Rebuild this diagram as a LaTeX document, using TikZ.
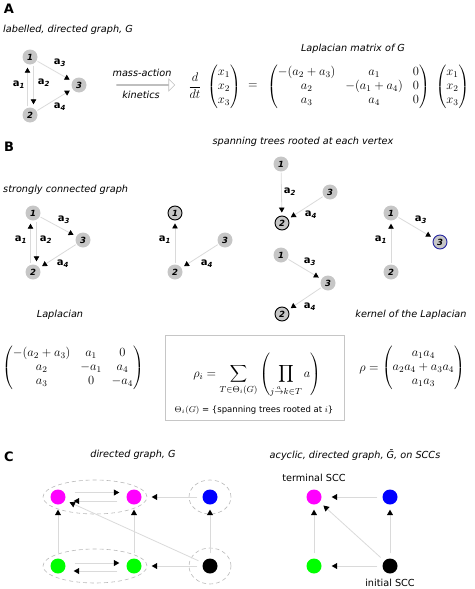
\RequirePackage{fix-cm}
\documentclass[tikz,border=0pt]{standalone}
\usepackage{amsmath}
\usepackage{fontspec}
\setmainfont{DejaVu Sans}
\usetikzlibrary{arrows.meta,shapes.geometric,shapes.arrows}
\definecolor{vgray}{HTML}{C6C6C6}
\definecolor{egray}{HTML}{DADADA}
\definecolor{navy}{HTML}{2424A0}
\definecolor{sccmag}{HTML}{FF00FF}
\definecolor{sccblue}{HTML}{0000FF}
\definecolor{sccgreen}{HTML}{00FF00}
\newcommand{\elab}[1]{\textbf{a}\textsubscript{\textbf{\textit{#1}}}}
\tikzset{
  vtx/.style={circle, fill=vgray, minimum size=15pt, inner sep=0pt, font=\fontsize{8.5}{9}\selectfont\bfseries\itshape},
  rootk/.style={vtx, draw=black, line width=0.9pt, minimum size=14pt},
  rootb/.style={vtx, draw=navy, line width=0.9pt, minimum size=14pt},
  edge/.style={draw=egray, line width=0.8pt, -{Triangle[length=5pt,width=5.5pt,color=black]}, shorten >=3pt, shorten <=1pt},
  captxt/.style={font=\fontsize{9.7}{11}\selectfont\itshape, inner sep=0pt},
  plaintxt/.style={font=\fontsize{9.7}{11}\selectfont, inner sep=0pt},
  elabel/.style={font=\fontsize{10}{11}\selectfont, inner sep=0pt},
  panel/.style={font=\fontsize{13}{14}\selectfont\bfseries, inner sep=0pt},
  mathtxt/.style={font=\fontsize{12.5}{14}\selectfont, inner sep=0pt},
  sccv/.style={circle, minimum size=15pt, inner sep=0pt},
  sccbox/.style={ellipse, draw=gray!55, dash pattern=on 4pt off 3pt, line width=0.6pt, inner sep=0pt, minimum height=34pt},
  cedge/.style={draw=egray, line width=0.8pt, -{Triangle[length=5.5pt,width=6pt,color=black]}, shorten >=5pt, shorten <=5pt},
}
\begin{document}
\begin{tikzpicture}[x=1pt,y=-1pt]
\useasboundingbox (0,0) rectangle (474,589);

% ---------------- Panel A ----------------
\node[panel] (pA) at (9,9) {A};
\node[captxt, anchor=west] (tA) at (3,30) {labelled, directed graph, G};
\node[vtx] (a1) at (30,57) {1};
\node[vtx] (a2) at (30,115) {2};
\node[vtx] (a3) at (79,85) {3};
\draw[edge] ([xshift=-2.5pt]a2.north) -- ([xshift=-2.5pt]a1.south);
\draw[edge] ([xshift=3.5pt]a1.south) -- ([xshift=3.5pt]a2.north);
\draw[edge] (a1) -- (a3);
\draw[edge] (a2) -- (a3);
\node[elabel] (la1) at (19,85) {\elab{1}};
\node[elabel] (la2) at (44,83) {\elab{2}};
\node[elabel] (la3) at (60,63) {\elab{3}};
\node[elabel] (la4) at (60,107) {\elab{4}};

\node[captxt] (tmass) at (142,73) {mass-action};
\node[captxt] (tkin) at (141,95) {kinetics};
\node[single arrow, draw=gray!50, fill=white, line width=0.6pt, minimum height=58pt, minimum width=12pt, single arrow head extend=3.5pt, inner sep=0pt] (marrow) at (145.5,85) {};

\node[captxt] (tLapA) at (353,49) {Laplacian matrix of G};
\node[mathtxt] (ddt) at (195,86) {$\displaystyle\frac{d}{dt}$};
\node[mathtxt] (xvecL) at (224,87) {$\begin{pmatrix} x_1\\ x_2\\ x_3\end{pmatrix}$};
\node[mathtxt] (eqA) at (253,86) {$=$};
\node[mathtxt] (LmatA) at (348.5,87) {$\begin{pmatrix} -(a_2+a_3) & a_1 & 0\\ a_2 & -(a_1+a_4) & 0\\ a_3 & a_4 & 0\end{pmatrix}$};
\node[mathtxt] (xvecR) at (452.5,87) {$\begin{pmatrix} x_1\\ x_2\\ x_3\end{pmatrix}$};

% ---------------- Panel B ----------------
\node[panel] (pB) at (9,147) {B};
\node[captxt] (tSpan) at (303,142) {spanning trees rooted at each vertex};
\node[captxt, anchor=west] (tStr) at (3,190) {strongly connected graph};

% strongly connected graph
\node[vtx] (b1) at (33,213) {1};
\node[vtx] (b2) at (33,272) {2};
\node[vtx] (b3) at (83,240) {3};
\draw[edge] ([xshift=-2.5pt]b2.north) -- ([xshift=-2.5pt]b1.south);
\draw[edge] ([xshift=3.5pt]b1.south) -- ([xshift=3.5pt]b2.north);
\draw[edge] (b1) -- (b3);
\draw[edge] (b3) -- (b2);
\node[elabel] (lb1) at (21,240) {\elab{1}};
\node[elabel] (lb2) at (46,240) {\elab{2}};
\node[elabel] (lb3) at (64,220) {\elab{3}};
\node[elabel] (lb4) at (63,264) {\elab{4}};

% tree rooted at 1
\node[rootk] (r1) at (175,213) {1};
\node[vtx] (r2) at (175,272) {2};
\node[vtx] (r3) at (225,240) {3};
\draw[edge] (r2) -- (r1);
\draw[edge] (r3) -- (r2);
\node[elabel] (lr1) at (165,240) {\elab{1}};
\node[elabel] (lr4) at (207,264) {\elab{4}};

% tree rooted at 2 (top)
\node[vtx] (t1) at (281,164) {1};
\node[vtx] (t3) at (330,192) {3};
\node[rootk] (t2) at (282,223) {2};
\draw[edge] (t1) -- (t2);
\draw[edge] (t3) -- (t2);
\node[elabel] (lt2) at (290,192) {\elab{2}};
\node[elabel] (lt4) at (311,215) {\elab{4}};

% tree rooted at 2 (bottom)
\node[vtx] (u1) at (281,255) {1};
\node[vtx] (u3) at (328,283) {3};
\node[rootk] (u2) at (282,314) {2};
\draw[edge] (u1) -- (u3);
\draw[edge] (u3) -- (u2);
\node[elabel] (lu3) at (310,262) {\elab{3}};
\node[elabel] (lu4) at (310,307) {\elab{4}};

% tree rooted at 3
\node[vtx] (v1) at (391,213) {1};
\node[vtx] (v2) at (391,272) {2};
\node[rootb] (v3) at (440,242) {3};
\draw[edge] (v2) -- (v1);
\draw[edge] (v1) -- (v3);
\node[elabel] (lv1) at (381,240) {\elab{1}};
\node[elabel] (lv3) at (421,220) {\elab{3}};

% Laplacian, formula, kernel
\node[captxt] (tLapB) at (60,315) {Laplacian};
\node[captxt] (tKer) at (411,315) {kernel of the Laplacian};
\node[mathtxt] (LmatB) at (73,368) {$\begin{pmatrix} -(a_2+a_3) & a_1 & 0\\ a_2 & -a_1 & a_4\\ a_3 & 0 & -a_4\end{pmatrix}$};
\node[draw=gray!45, line width=0.7pt, minimum width=179pt, minimum height=85pt, inner sep=0pt] (fbox) at (254.5,377.5) {};
\node[mathtxt] (rhoi) at (257,375) {$\displaystyle \rho_i = \sum_{T\in\Theta_i(G)} \left(\prod_{j\overset{a}{\to}k\in T} a\right)$};
\node[font=\fontsize{8.5}{10}\selectfont, inner sep=0pt] (thetadef) at (254,410) {$\Theta_i(G)$ = \{spanning trees rooted at $i$\}};
\node[mathtxt] (kern) at (412,368) {$\rho = \begin{pmatrix} a_1a_4\\ a_2a_4+a_3a_4\\ a_1a_3\end{pmatrix}$};

% ---------------- Panel C ----------------
\node[panel] (pC) at (9,457) {C};
\node[captxt] (tC1) at (133,455) {directed graph, G};
\node[captxt] (tC2) at (355,455) {acyclic, directed graph, \={G}, on SCCs};

\node[sccbox, minimum width=104pt] (em) at (95,497) {};
\node[sccbox, minimum width=42pt] (eb) at (210,497) {};
\node[sccbox, minimum width=104pt] (eg) at (95,566) {};
\node[sccbox, minimum width=42pt, minimum height=36pt] (ek) at (210,566) {};

\node[sccv, fill=sccmag] (cm1) at (58,497) {};
\node[sccv, fill=sccmag] (cm2) at (134,497) {};
\node[sccv, fill=sccblue] (cb) at (210,497) {};
\node[sccv, fill=sccgreen] (cg1) at (58,566) {};
\node[sccv, fill=sccgreen] (cg2) at (134,566) {};
\node[sccv, fill=black] (ck) at (210,566) {};

\draw[cedge, shorten <=9pt, shorten >=7pt] ([yshift=4.5pt]cm1.east) -- ([yshift=4.5pt]cm2.west);
\draw[cedge, shorten <=9pt, shorten >=8pt] ([yshift=-4pt]cm2.west) -- ([yshift=-4pt]cm1.east);
\draw[cedge, shorten <=9pt, shorten >=7pt] ([yshift=3pt]cg1.east) -- ([yshift=3pt]cg2.west);
\draw[cedge, shorten <=9pt, shorten >=8pt] ([yshift=-5pt]cg2.west) -- ([yshift=-5pt]cg1.east);
\draw[cedge, shorten >=10pt] (cb) -- (cm2);
\draw[cedge, shorten >=10pt] (ck) -- (cg2);
\draw[cedge] (cg1) -- (cm1);
\draw[cedge] (cg2) -- (cm2);
\draw[cedge] (ck) -- (cb);
\draw[cedge] (ck) -- (cm1);

\node[plaintxt] (tterm) at (314,478) {terminal SCC};
\node[plaintxt] (tinit) at (390,583) {initial SCC};
\node[sccv, fill=sccmag] (sm) at (314,497) {};
\node[sccv, fill=sccblue] (sb) at (390,497) {};
\node[sccv, fill=sccgreen] (sg) at (314,566) {};
\node[sccv, fill=black] (sk) at (390,566) {};
\draw[cedge, shorten >=10pt] (sb) -- (sm);
\draw[cedge, shorten >=10pt] (sk) -- (sg);
\draw[cedge] (sg) -- (sm);
\draw[cedge] (sk) -- (sb);
\draw[cedge] (sk) -- (sm);
\end{tikzpicture}
\end{document}
